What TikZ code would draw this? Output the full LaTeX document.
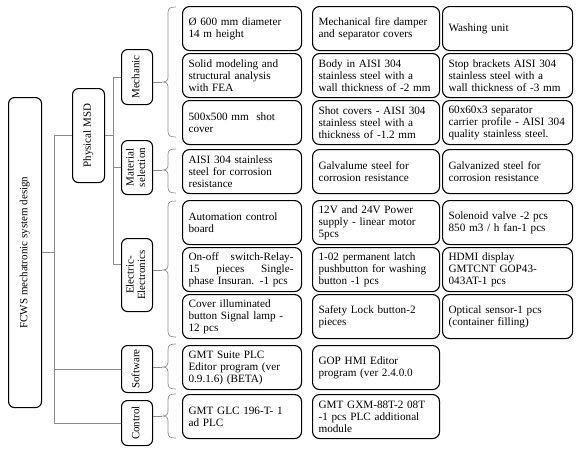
\documentclass[tikz,border=0pt]{standalone}
\usepackage{fontspec}
\setmainfont{Liberation Serif}
\usepackage{graphicx}
\newcommand\bracegrp[4]{%
  \draw[conn] (#1+8,#2) .. controls (#1+2,#2) and (#1,#2+1) .. (#1,#2+6)
    -- (#1,#3-5) .. controls (#1,#3-1) and (#1-2,#3) .. (#1-6,#3)
    .. controls (#1-2,#3) and (#1,#3+1) .. (#1,#3+5)
    -- (#1,#4-6) .. controls (#1,#4-1) and (#1+2,#4) .. (#1+8,#4);}
\newcommand\vlab[1]{\rotatebox{90}{\begin{tabular}{@{}c@{}}#1\end{tabular}}}
\newcommand\fullline[1]{\leavevmode\hbox to 105pt{#1}}
\begin{document}
\begin{tikzpicture}[x=1pt,y=-1pt,
  cell/.style={draw=black, line width=1.1pt, rounded corners=7pt, anchor=north west,
    inner xsep=6pt, inner ysep=0pt, align=left, minimum height=44pt,
    font=\fontsize{11.2}{12}\selectfont},
  ca/.style={cell, minimum width=119pt, text width=107pt},
  cb/.style={cell, minimum width=127pt, text width=115pt},
  cc/.style={cell, minimum width=130pt, text width=118pt},
  lab/.style={draw=black, line width=1.1pt, rounded corners=6pt, anchor=north west,
    inner sep=0pt, font=\fontsize{11}{11.5}\selectfont},
  conn/.style={draw=black!45, line width=0.7pt}]
\useasboundingbox (0,0) rectangle (578,450);

% label boxes
\node[lab, minimum width=33pt, minimum height=310pt] (main) at (8,97) {\vlab{FCWS mechatronic system design}};
\node[lab, minimum width=32pt, minimum height=94pt] (phys) at (72,88) {\vlab{Physical MSD}};
\node[lab, minimum width=31pt, minimum height=55pt] (mech) at (121,49) {\vlab{Mechanic}};
\node[lab, minimum width=31pt, minimum height=54pt] (mat) at (121,140) {\vlab{Material\\selection}};
\node[lab, minimum width=31pt, minimum height=73pt] (elec) at (121,238) {\vlab{Electric-\\Electronics}};
\node[lab, minimum width=31pt, minimum height=47pt] (soft) at (121,345) {\vlab{Software}};
\node[lab, minimum width=31pt, minimum height=45pt] (ctrl) at (121,400) {\vlab{Control}};

% cells
\node[ca] (a1) at (182,6) {Ø 600 mm diameter\\14 m height};
\node[cb] (b1) at (312,6) {Mechanical fire damper\\and separator covers};
\node[cc] (c1) at (442,6) {Washing unit};
\node[ca] (a2) at (182,53) {Solid modeling and\\structural analysis\\with FEA};
\node[cb] (b2) at (312,53) {Body in AISI 304\\stainless steel with a\\wall thickness of -2 mm};
\node[cc] (c2) at (442,53) {Stop brackets AISI 304\\stainless steel with a\\wall thickness of -3 mm};
\node[ca] (a3) at (182,100) {500x500 mm~ shot\\cover};
\node[cb] (b3) at (312,100) {Shot covers - AISI 304\\stainless steel with a\\thickness of -1.2 mm};
\node[cc] (c3) at (442,100) {60x60x3 separator\\carrier profile - AISI 304\\quality stainless steel.};
\node[ca] (a4) at (182,149) {AISI 304 stainless\\steel for corrosion\\resistance};
\node[cb] (b4) at (312,149) {Galvalume steel for\\corrosion resistance};
\node[cc] (c4) at (442,149) {Galvanized steel for\\corrosion resistance};
\node[ca] (a5) at (182,200) {Automation control\\board};
\node[cb] (b5) at (312,200) {12V and 24V Power\\supply - linear motor\\5pcs};
\node[cc] (c5) at (442,200) {Solenoid valve -2 pcs\\850 m3 / h fan-1 pcs};
\node[ca] (a6) at (182,247) {\fullline{On-off\hfill switch-Relay-}\\\fullline{15\hfill pieces\hfill Single-}\\phase Insuran. -1 pcs};
\node[cb] (b6) at (312,247) {1-02 permanent latch\\pushbutton for washing\\button -1 pcs};
\node[cc] (c6) at (442,247) {HDMI display\\GMTCNT GOP43-\\043AT-1 pcs};
\node[ca] (a7) at (182,294) {Cover illuminated\\button Signal lamp -\\12 pcs};
\node[cb] (b7) at (312,294) {Safety Lock button-2\\pieces};
\node[cc] (c7) at (442,294) {Optical sensor-1 pcs\\(container filling)};
\node[ca] (a8) at (182,345) {GMT Suite PLC\\Editor program (ver\\0.9.1.6) (BETA)};
\node[cb] (b8) at (312,345) {GOP HMI Editor\\program (ver 2.4.0.0};
\node[ca] (a9) at (182,394) {GMT GLC 196-T- 1\\ad PLC};
\node[cb] (b9) at (312,394) {GMT GXM-88T-2 08T\\-1 pcs PLC additional\\module};

% tree connectors
\coordinate (busA) at (54,0);
\coordinate (busB) at (113,0);
\coordinate (eline) at (0,264);
\draw[conn] (main.east) -- (main.east -| busA);
\draw[conn] (busA |- phys) -- (busA |- ctrl);
\draw[conn] (busA |- phys) -- (phys.west);
\draw[conn] (busA |- soft) -- (soft.west);
\draw[conn] (busA |- ctrl) -- (ctrl.west);
\draw[conn] (phys.east) -- (phys.east -| busB);
\draw[conn] (busB |- mech) -- (busB |- eline);
\draw[conn] (busB |- mech) -- (mech.west);
\draw[conn] (busB |- mat) -- (mat.west);
\draw[conn] (busB |- eline) -- (elec.west |- eline);

% braces and their tips
\coordinate (tmech) at (162,82);
\coordinate (tmat) at (162,170);
\coordinate (telec) at (162,270);
\coordinate (tsoft) at (162,367);
\coordinate (tctrl) at (162,416);
\bracegrp{168}{7}{82}{137}
\bracegrp{168}{149}{170}{193}
\bracegrp{168}{201}{270}{337}
\bracegrp{168}{344}{367}{389}
\bracegrp{168}{394}{416}{438}
\draw[conn] (mech.east |- tmech) -- (tmech);
\draw[conn] (mat.east |- tmat) -- (tmat);
\draw[conn] (elec.east |- telec) -- (telec);
\draw[conn] (soft.east |- tsoft) -- (tsoft);
\draw[conn] (ctrl.east |- tctrl) -- (tctrl);
\end{tikzpicture}
\end{document}
